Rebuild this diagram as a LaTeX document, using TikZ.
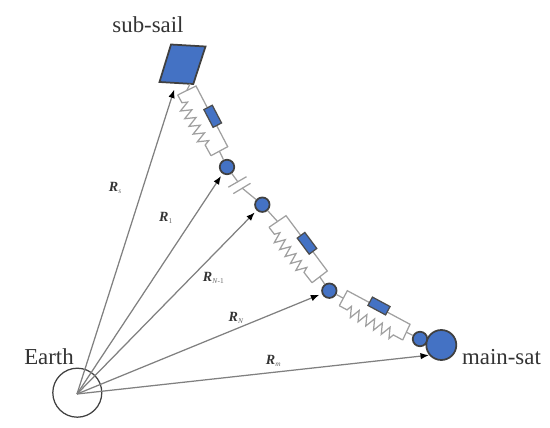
\documentclass[tikz,border=0pt]{standalone}
\usepackage{amsmath}
\usepackage{amssymb}
\usepackage{fontspec}
\setmainfont{Liberation Serif}
\usepackage{tikz}
\usetikzlibrary{decorations.pathmorphing}
\usetikzlibrary{arrows.meta}
\definecolor{satblue}{RGB}{68,114,196}
\definecolor{wire}{RGB}{160,160,160}
\newcommand{\vecR}[1]{\textbf{\textit{R}}\raisebox{-1pt}{\fontsize{4.2}{5}\selectfont\color{black!60}#1}}
\tikzset{
	mass/.style={circle,draw=black!75,fill=satblue,line width=0.35mm,inner sep=0pt},
	damper/.style={rectangle,draw=black!70,fill=satblue,line width=0.25mm,inner sep=0pt,minimum width=0.4cm,minimum height=0.19cm},
	wireline/.style={draw=wire,line width=0.25mm},
	spring/.style={wireline,decorate,decoration={zigzag,amplitude=3pt,segment length=5pt,pre length=5pt,post length=5pt}},
	radius/.style={draw=black!50,line width=0.25mm,-{Latex[black,length=1.7mm,width=1.3mm]},shorten >=1.5pt},
	lab/.style={inner sep=0pt,font=\fontsize{13}{15}\selectfont,text=black!80},
	veclab/.style={inner sep=0pt,font=\fontsize{8}{9}\selectfont,text=black!80}
}
\begin{document}
\begin{tikzpicture}[x=0.02cm,y=-0.02cm]
	\useasboundingbox (0,0) rectangle (550,428);
	% sail, masses and earth
	\draw [draw=black!75,fill=satblue,line width=0.35mm] (171,44.5) -- (205.5,46.5) -- (193.3,84) -- (159.5,82) -- cycle;
	\node [circle,draw=black!75,line width=0.25mm,minimum size=0.98cm,inner sep=0pt] (E) at (77.3,392.7) {};
	\node [mass,minimum size=0.29cm] (A) at (227,167) {};
	\node [mass,minimum size=0.29cm] (B) at (262.3,204.7) {};
	\node [mass,minimum size=0.29cm] (C) at (329.3,290.7) {};
	\node [mass,minimum size=0.29cm] (D) at (420,339) {};
	\node [mass,minimum size=0.6cm] (M) at (441.3,345) {};
	\coordinate (O) at (77,394);
	\coordinate (S) at (175,87);
	\coordinate (T) at (429,355.2);
	% link from sail to first mass
	\coordinate (a1) at (177.7,95);
	\coordinate (a2) at (196,86);
	\coordinate (a3) at (227.7,146.7);
	\coordinate (a4) at (211,155.7);
	\draw [wireline] (a4) -- (a3) -- (a2) -- (a1);
	\draw [spring] (a1) -- (a4);
	\draw [wireline] (186.8,90.5) -- (190,84);
	\draw [wireline] (219.3,151) -- (A);
	\node [damper,rotate=-62.4] (d1) at (212.7,116.3) {};
	% capacitor
	\coordinate (p1) at (238,182);
	\coordinate (p2) at (242,188);
	\draw [wireline] (A) -- (p1);
	\draw [wireline] (p2) -- (B);
	\draw [wireline] (228.3,187.2) -- (246.5,176.7);
	\draw [wireline] (233.3,193.6) -- (250.5,183.3);
	% link from second to third mass
	\coordinate (b1) at (269,227.3);
	\coordinate (b2) at (286,215.7);
	\coordinate (b3) at (327.3,271);
	\coordinate (b4) at (312,282.7);
	\draw [wireline] (b4) -- (b3) -- (b2) -- (b1);
	\draw [spring] (b1) -- (b4);
	\draw [wireline] (B) -- (277.5,221.5);
	\draw [wireline] (319.7,276.8) -- (C);
	\node [damper,rotate=-53.2] (d2) at (307,243.3) {};
	% link from third to fourth mass
	\coordinate (c1) at (339.3,305.7);
	\coordinate (c2) at (347.3,290.7);
	\coordinate (c3) at (410,324.3);
	\coordinate (c4) at (402.7,340);
	\draw [wireline] (c4) -- (c3) -- (c2) -- (c1);
	\draw [spring] (c1) -- (c4);
	\draw [wireline] (C) -- (343.3,298.2);
	\draw [wireline] (406.3,332.2) -- (D);
	\node [damper,rotate=-28.2] (d3) at (379,306) {};
	% position vectors
	\draw [radius] (O) -- (S);
	\draw [radius] (O) -- (A);
	\draw [radius] (O) -- (B);
	\draw [radius] (O) -- (C);
	\draw [radius,shorten >=0pt] (O) -- (T);
	% labels
	\node [lab] (l1) at (148,25) {sub-sail};
	\node [lab] (l2) at (49,357) {Earth};
	\node [lab] (l3) at (501.5,357) {main-sat};
	\node [veclab] (r1) at (115,187.7) {\vecR{\textit{s}}};
	\node [veclab] (r2) at (165.7,217.7) {\vecR{1}};
	\node [veclab] (r3) at (213.3,278) {\vecR{\textit{N}-1}};
	\node [veclab] (r4) at (236,318) {\vecR{\textit{N}}};
	\node [veclab] (r5) at (273.3,361) {\vecR{\textit{m}}};
\end{tikzpicture}
\end{document}
